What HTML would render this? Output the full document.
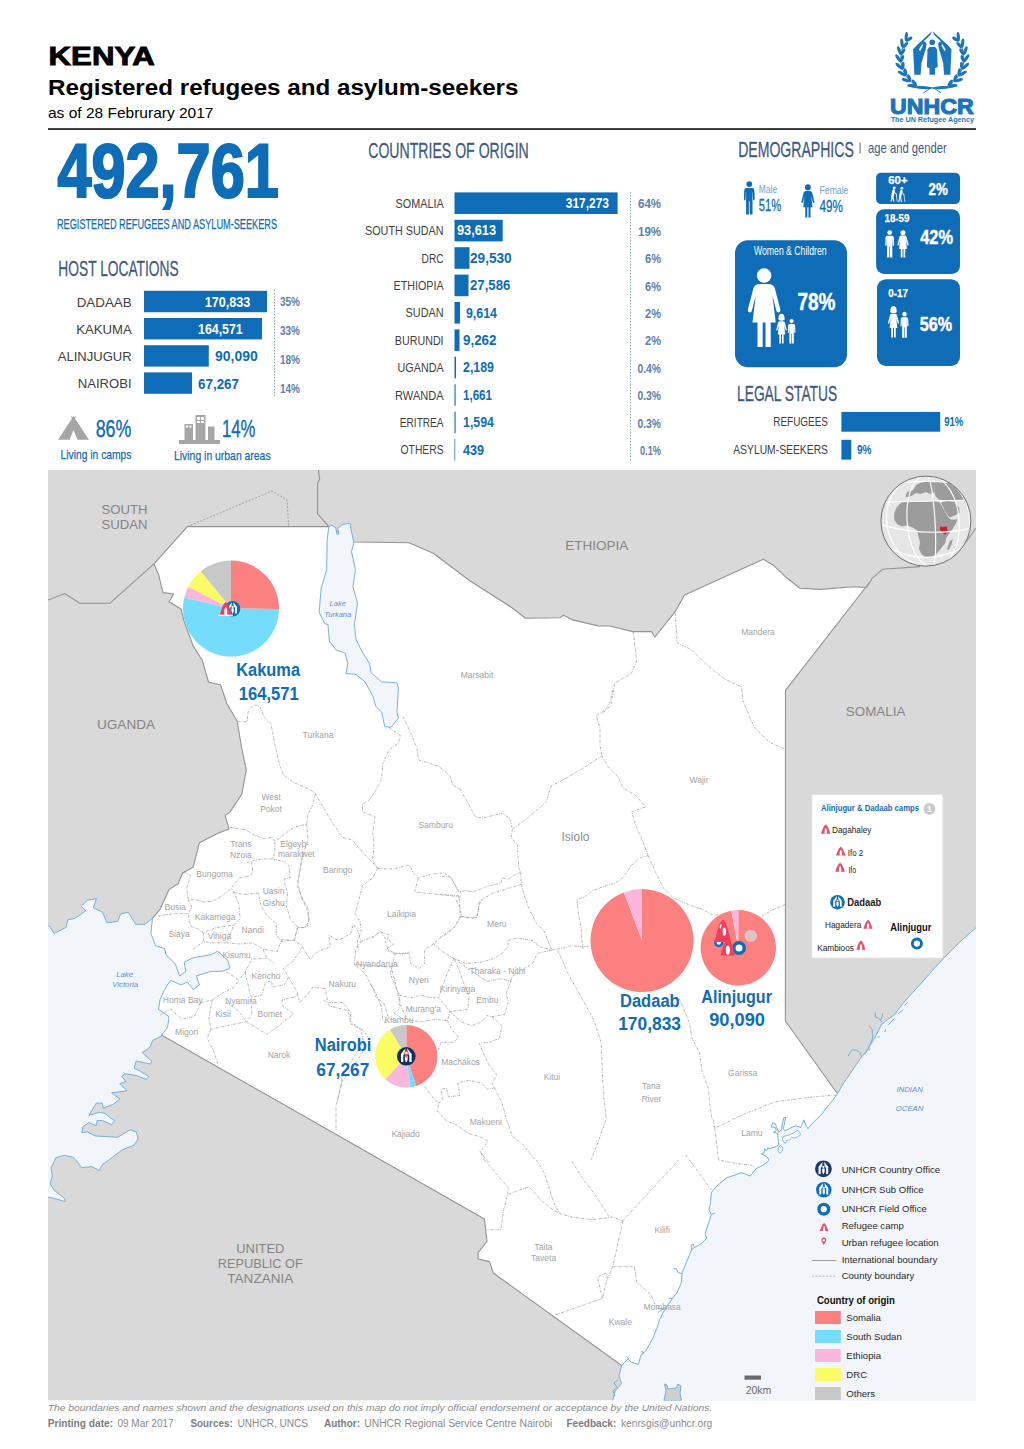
<!DOCTYPE html>
<html lang="en">
<head>
<meta charset="utf-8">
<title>Kenya - Registered refugees and asylum-seekers</title>
<style>
html,body{margin:0;padding:0;background:#fff;}
body{width:1024px;height:1449px;overflow:hidden;}
svg{display:block;font-family:"Liberation Sans",sans-serif;}
text{white-space:pre;}
</style>
</head>
<body>
<svg width="1024" height="1449" viewBox="0 0 1024 1449">
<rect width="1024" height="1449" fill="#fff"/>
<!-- ===== Header ===== -->
<g id="header">
<text x="48.6" y="65.2" font-size="26" textLength="106.3" lengthAdjust="spacingAndGlyphs" font-weight="bold" stroke="#000" stroke-width="0.9">KENYA</text>
<text x="48.0" y="94.5" font-size="21.5" textLength="470.5" lengthAdjust="spacingAndGlyphs" font-weight="bold">Registered refugees and asylum-seekers</text>
<text x="48.0" y="118.0" font-size="14.8" textLength="165.5" lengthAdjust="spacingAndGlyphs">as of 28 Februrary 2017</text>
<rect x="48.0" y="128.2" width="928.0" height="1.7" fill="#1a1a1a"/>
</g>
<!-- ===== Total ===== -->
<g id="total">
<text x="57.4" y="197.3" font-size="75.5" textLength="221.4" lengthAdjust="spacingAndGlyphs" fill="#0f6cb6" font-weight="bold" stroke="#0f6cb6" stroke-width="2.2">492,761</text>
<text x="57.0" y="228.7" font-size="15" textLength="220.0" lengthAdjust="spacingAndGlyphs" fill="#0f6cb6" stroke="#0f6cb6" stroke-width="0.25">REGISTERED REFUGEES AND ASYLUM-SEEKERS</text>
</g>
<!-- ===== Host locations ===== -->
<g id="host">
<text x="58.3" y="275.6" font-size="22.4" textLength="120.4" lengthAdjust="spacingAndGlyphs" fill="#3f5a82" stroke="#3f5a82" stroke-width="0.3">HOST LOCATIONS</text>
<rect x="144.0" y="290.8" width="123.0" height="21.4" fill="#0f6cb6"/>
<text x="131.7" y="306.5" font-size="13.3" textLength="55.0" lengthAdjust="spacingAndGlyphs" text-anchor="end" fill="#404040">DADAAB</text>
<text x="204.7" y="307.0" font-size="14" textLength="45.7" lengthAdjust="spacingAndGlyphs" fill="#fff" font-weight="bold">170,833</text>
<text x="280.0" y="306.0" font-size="12.5" textLength="20.0" lengthAdjust="spacingAndGlyphs" fill="#5d7dab" font-weight="bold">35%</text>
<rect x="144.0" y="318.0" width="118.0" height="21.4" fill="#0f6cb6"/>
<text x="131.7" y="333.7" font-size="13.3" textLength="55.5" lengthAdjust="spacingAndGlyphs" text-anchor="end" fill="#404040">KAKUMA</text>
<text x="198.0" y="334.2" font-size="14" textLength="44.7" lengthAdjust="spacingAndGlyphs" fill="#fff" font-weight="bold">164,571</text>
<text x="280.0" y="335.0" font-size="12.5" textLength="20.0" lengthAdjust="spacingAndGlyphs" fill="#5d7dab" font-weight="bold">33%</text>
<rect x="144.0" y="345.2" width="64.8" height="21.4" fill="#0f6cb6"/>
<text x="131.7" y="360.9" font-size="13.3" textLength="74.0" lengthAdjust="spacingAndGlyphs" text-anchor="end" fill="#404040">ALINJUGUR</text>
<text x="215.0" y="361.4" font-size="14" textLength="42.7" lengthAdjust="spacingAndGlyphs" fill="#0f6cb6" font-weight="bold">90,090</text>
<text x="280.0" y="364.0" font-size="12.5" textLength="20.0" lengthAdjust="spacingAndGlyphs" fill="#5d7dab" font-weight="bold">18%</text>
<rect x="144.0" y="372.4" width="48.0" height="21.4" fill="#0f6cb6"/>
<text x="131.7" y="388.1" font-size="13.3" textLength="54.0" lengthAdjust="spacingAndGlyphs" text-anchor="end" fill="#404040">NAIROBI</text>
<text x="198.0" y="388.6" font-size="14" textLength="41.0" lengthAdjust="spacingAndGlyphs" fill="#0f6cb6" font-weight="bold">67,267</text>
<text x="280.0" y="392.8" font-size="12.5" textLength="20.0" lengthAdjust="spacingAndGlyphs" fill="#5d7dab" font-weight="bold">14%</text>
<line x1="274.5" y1="290" x2="274.5" y2="396" stroke="#8fa3c0" stroke-width="1" stroke-dasharray="1.5,1.5"/>
<path d="M58,439.7 L72,418.5 L70.5,416 L72.8,417.2 L73.5,415.5 L74.2,417.2 L76.5,416 L75,418.5 L89,439.7 L77.5,439.7 L73.5,430 L69.5,439.7 Z" fill="#a6a6a6"/>
<text x="95.7" y="436.8" font-size="23.5" textLength="35.7" lengthAdjust="spacingAndGlyphs" fill="#0f6cb6" stroke="#0f6cb6" stroke-width="0.4">86%</text>
<text x="60.5" y="458.7" font-size="13.5" textLength="71.0" lengthAdjust="spacingAndGlyphs" fill="#0f6cb6" stroke="#0f6cb6" stroke-width="0.25">Living in camps</text>
<g fill="#a6a6a6"><rect x="179" y="440" width="41" height="4"/><rect x="184.5" y="424" width="8.5" height="16"/><rect x="195.5" y="415" width="10" height="25"/><rect x="208" y="426.5" width="6.5" height="13.5"/></g>
<g fill="#fff"><rect x="186" y="425.5" width="2.2" height="2"/><rect x="189.2" y="425.5" width="2.2" height="2"/><rect x="197" y="417" width="3" height="3"/><rect x="201" y="417" width="3" height="3"/><rect x="197" y="421" width="3" height="2"/><rect x="201" y="421" width="3" height="2"/></g>
<text x="222.0" y="436.8" font-size="23.5" textLength="33.4" lengthAdjust="spacingAndGlyphs" fill="#0f6cb6" stroke="#0f6cb6" stroke-width="0.4">14%</text>
<text x="174.0" y="460.0" font-size="13.5" textLength="96.6" lengthAdjust="spacingAndGlyphs" fill="#0f6cb6" stroke="#0f6cb6" stroke-width="0.25">Living in urban areas</text>
</g>
<!-- ===== Countries of origin ===== -->
<g id="origin">
<text x="368.2" y="158.2" font-size="21.8" textLength="160.6" lengthAdjust="spacingAndGlyphs" fill="#3f5a82" stroke="#3f5a82" stroke-width="0.3">COUNTRIES OF ORIGIN</text>
<rect x="454.5" y="192.4" width="163.1" height="21.6" fill="#0f6cb6"/>
<text x="443.6" y="207.8" font-size="13.5" textLength="48.0" lengthAdjust="spacingAndGlyphs" text-anchor="end" fill="#404040">SOMALIA</text>
<text x="565.8" y="208.0" font-size="14" textLength="43.2" lengthAdjust="spacingAndGlyphs" fill="#fff" font-weight="bold">317,273</text>
<text x="661.0" y="208.4" font-size="13" textLength="23.0" lengthAdjust="spacingAndGlyphs" text-anchor="end" fill="#5d7dab" font-weight="bold">64%</text>
<rect x="454.5" y="219.8" width="48.2" height="21.6" fill="#0f6cb6"/>
<text x="443.6" y="235.2" font-size="13.5" textLength="78.6" lengthAdjust="spacingAndGlyphs" text-anchor="end" fill="#404040">SOUTH SUDAN</text>
<text x="457.0" y="235.4" font-size="14" textLength="39.0" lengthAdjust="spacingAndGlyphs" fill="#fff" font-weight="bold">93,613</text>
<text x="661.0" y="235.8" font-size="13" textLength="23.0" lengthAdjust="spacingAndGlyphs" text-anchor="end" fill="#5d7dab" font-weight="bold">19%</text>
<rect x="454.5" y="247.2" width="15.0" height="21.6" fill="#0f6cb6"/>
<text x="443.6" y="262.6" font-size="13.5" textLength="22.0" lengthAdjust="spacingAndGlyphs" text-anchor="end" fill="#404040">DRC</text>
<text x="470.0" y="262.8" font-size="14" textLength="41.7" lengthAdjust="spacingAndGlyphs" fill="#0f6cb6" font-weight="bold">29,530</text>
<text x="661.0" y="263.2" font-size="13" textLength="16.0" lengthAdjust="spacingAndGlyphs" text-anchor="end" fill="#5d7dab" font-weight="bold">6%</text>
<rect x="454.5" y="274.6" width="14.0" height="21.6" fill="#0f6cb6"/>
<text x="443.6" y="290.0" font-size="13.5" textLength="50.0" lengthAdjust="spacingAndGlyphs" text-anchor="end" fill="#404040">ETHIOPIA</text>
<text x="470.0" y="290.2" font-size="14" textLength="40.4" lengthAdjust="spacingAndGlyphs" fill="#0f6cb6" font-weight="bold">27,586</text>
<text x="661.0" y="290.6" font-size="13" textLength="16.0" lengthAdjust="spacingAndGlyphs" text-anchor="end" fill="#5d7dab" font-weight="bold">6%</text>
<rect x="454.5" y="302.0" width="5.5" height="21.6" fill="#0f6cb6"/>
<text x="443.6" y="317.4" font-size="13.5" textLength="38.0" lengthAdjust="spacingAndGlyphs" text-anchor="end" fill="#404040">SUDAN</text>
<text x="465.9" y="317.6" font-size="14" textLength="31.1" lengthAdjust="spacingAndGlyphs" fill="#0f6cb6" font-weight="bold">9,614</text>
<text x="661.0" y="318.0" font-size="13" textLength="16.0" lengthAdjust="spacingAndGlyphs" text-anchor="end" fill="#5d7dab" font-weight="bold">2%</text>
<rect x="454.5" y="329.4" width="5.0" height="21.6" fill="#0f6cb6"/>
<text x="443.6" y="344.8" font-size="13.5" textLength="48.8" lengthAdjust="spacingAndGlyphs" text-anchor="end" fill="#404040">BURUNDI</text>
<text x="463.0" y="345.0" font-size="14" textLength="33.5" lengthAdjust="spacingAndGlyphs" fill="#0f6cb6" font-weight="bold">9,262</text>
<text x="661.0" y="345.4" font-size="13" textLength="16.0" lengthAdjust="spacingAndGlyphs" text-anchor="end" fill="#5d7dab" font-weight="bold">2%</text>
<rect x="454.5" y="356.8" width="1.5" height="21.6" fill="#0f6cb6"/>
<text x="443.6" y="372.2" font-size="13.5" textLength="46.0" lengthAdjust="spacingAndGlyphs" text-anchor="end" fill="#404040">UGANDA</text>
<text x="463.0" y="372.4" font-size="14" textLength="31.0" lengthAdjust="spacingAndGlyphs" fill="#0f6cb6" font-weight="bold">2,189</text>
<text x="661.0" y="372.8" font-size="13" textLength="23.5" lengthAdjust="spacingAndGlyphs" text-anchor="end" fill="#5d7dab" font-weight="bold">0.4%</text>
<rect x="454.5" y="384.2" width="1.1" height="21.6" fill="#0f6cb6"/>
<text x="443.6" y="399.6" font-size="13.5" textLength="48.5" lengthAdjust="spacingAndGlyphs" text-anchor="end" fill="#404040">RWANDA</text>
<text x="463.0" y="399.8" font-size="14" textLength="29.0" lengthAdjust="spacingAndGlyphs" fill="#0f6cb6" font-weight="bold">1,661</text>
<text x="661.0" y="400.2" font-size="13" textLength="23.5" lengthAdjust="spacingAndGlyphs" text-anchor="end" fill="#5d7dab" font-weight="bold">0.3%</text>
<rect x="454.5" y="411.6" width="1.1" height="21.6" fill="#0f6cb6"/>
<text x="443.6" y="427.0" font-size="13.5" textLength="43.8" lengthAdjust="spacingAndGlyphs" text-anchor="end" fill="#404040">ERITREA</text>
<text x="463.0" y="427.2" font-size="14" textLength="31.0" lengthAdjust="spacingAndGlyphs" fill="#0f6cb6" font-weight="bold">1,594</text>
<text x="661.0" y="427.6" font-size="13" textLength="23.5" lengthAdjust="spacingAndGlyphs" text-anchor="end" fill="#5d7dab" font-weight="bold">0.3%</text>
<rect x="454.5" y="439.0" width="0.7" height="21.6" fill="#0f6cb6"/>
<text x="443.6" y="454.4" font-size="13.5" textLength="43.0" lengthAdjust="spacingAndGlyphs" text-anchor="end" fill="#404040">OTHERS</text>
<text x="463.0" y="454.6" font-size="14" textLength="21.0" lengthAdjust="spacingAndGlyphs" fill="#0f6cb6" font-weight="bold">439</text>
<text x="661.0" y="455.0" font-size="13" textLength="21.0" lengthAdjust="spacingAndGlyphs" text-anchor="end" fill="#5d7dab" font-weight="bold">0.1%</text>
<line x1="630.5" y1="192" x2="630.5" y2="461" stroke="#8fa3c0" stroke-width="1" stroke-dasharray="1.5,1.5"/>
</g>
<!-- ===== UNHCR logo ===== -->
<g id="logo" fill="#1b75bc">
<polygon points="931.9,31.3 930.5,34.7 923.5,41.5 925.1,41.8 926.5,43.4 926.0,48.1 921.5,63.0 920.6,74.8 914.4,74.8 913.1,49.2 917.1,44.9"/>
<polygon points="932.7,31.3 934.1,34.7 941.1,41.5 939.5,41.8 938.1,43.4 938.7,48.1 943.2,63.0 944.0,74.8 950.3,74.8 951.5,49.2 947.6,44.9"/>
<polygon points="918.9,49.5 922.4,43.8 923.2,45.4 920.0,51.2" fill="#fff"/>
<polygon points="945.7,49.5 942.2,43.8 941.4,45.4 944.7,51.2" fill="#fff"/>
<circle cx="932.3" cy="42.2" r="2.8"/>
<polygon points="929.4,47.1 935.2,47.1 937.1,49.5 937.7,67.3 935.1,67.9 935.1,74.8 929.5,74.8 929.5,67.9 926.9,67.3 927.5,49.5"/>
<ellipse cx="911.9" cy="85.6" rx="4.7" ry="1.6" transform="rotate(-178.0 911.9 85.6)"/>
<ellipse cx="914.3" cy="82.7" rx="3.8" ry="1.6" transform="rotate(-126.0 914.3 82.7)"/>
<ellipse cx="906.2" cy="80.2" rx="4.7" ry="1.6" transform="rotate(-164.7 906.2 80.2)"/>
<ellipse cx="909.2" cy="77.9" rx="3.8" ry="1.6" transform="rotate(-112.7 909.2 77.9)"/>
<ellipse cx="901.9" cy="73.6" rx="4.7" ry="1.6" transform="rotate(-151.4 901.9 73.6)"/>
<ellipse cx="905.4" cy="72.1" rx="3.8" ry="1.6" transform="rotate(-99.4 905.4 72.1)"/>
<ellipse cx="899.2" cy="66.2" rx="4.7" ry="1.6" transform="rotate(-138.1 899.2 66.2)"/>
<ellipse cx="903.0" cy="65.5" rx="3.8" ry="1.6" transform="rotate(-86.1 903.0 65.5)"/>
<ellipse cx="898.3" cy="58.4" rx="4.7" ry="1.6" transform="rotate(-124.8 898.3 58.4)"/>
<ellipse cx="902.1" cy="58.6" rx="3.8" ry="1.6" transform="rotate(-72.8 902.1 58.6)"/>
<ellipse cx="899.3" cy="50.6" rx="4.7" ry="1.6" transform="rotate(-111.5 899.3 50.6)"/>
<ellipse cx="902.9" cy="51.7" rx="3.8" ry="1.6" transform="rotate(-59.5 902.9 51.7)"/>
<ellipse cx="902.0" cy="43.2" rx="4.7" ry="1.6" transform="rotate(-98.2 902.0 43.2)"/>
<ellipse cx="905.3" cy="45.1" rx="3.8" ry="1.6" transform="rotate(-46.2 905.3 45.1)"/>
<ellipse cx="906.3" cy="36.6" rx="4.7" ry="1.6" transform="rotate(-84.9 906.3 36.6)"/>
<ellipse cx="909.1" cy="39.2" rx="3.8" ry="1.6" transform="rotate(-32.9 909.1 39.2)"/>
<ellipse cx="952.7" cy="85.6" rx="4.7" ry="1.6" transform="rotate(-2.0 952.7 85.6)"/>
<ellipse cx="950.3" cy="82.7" rx="3.8" ry="1.6" transform="rotate(-54.0 950.3 82.7)"/>
<ellipse cx="958.4" cy="80.2" rx="4.7" ry="1.6" transform="rotate(-15.3 958.4 80.2)"/>
<ellipse cx="955.4" cy="77.9" rx="3.8" ry="1.6" transform="rotate(-67.3 955.4 77.9)"/>
<ellipse cx="962.7" cy="73.6" rx="4.7" ry="1.6" transform="rotate(-28.6 962.7 73.6)"/>
<ellipse cx="959.2" cy="72.1" rx="3.8" ry="1.6" transform="rotate(-80.6 959.2 72.1)"/>
<ellipse cx="965.4" cy="66.2" rx="4.7" ry="1.6" transform="rotate(-41.9 965.4 66.2)"/>
<ellipse cx="961.6" cy="65.5" rx="3.8" ry="1.6" transform="rotate(-93.9 961.6 65.5)"/>
<ellipse cx="966.3" cy="58.4" rx="4.7" ry="1.6" transform="rotate(-55.2 966.3 58.4)"/>
<ellipse cx="962.5" cy="58.6" rx="3.8" ry="1.6" transform="rotate(-107.2 962.5 58.6)"/>
<ellipse cx="965.3" cy="50.6" rx="4.7" ry="1.6" transform="rotate(-68.5 965.3 50.6)"/>
<ellipse cx="961.7" cy="51.7" rx="3.8" ry="1.6" transform="rotate(-120.5 961.7 51.7)"/>
<ellipse cx="962.6" cy="43.2" rx="4.7" ry="1.6" transform="rotate(-81.8 962.6 43.2)"/>
<ellipse cx="959.3" cy="45.1" rx="3.8" ry="1.6" transform="rotate(-133.8 959.3 45.1)"/>
<ellipse cx="958.3" cy="36.6" rx="4.7" ry="1.6" transform="rotate(-95.1 958.3 36.6)"/>
<ellipse cx="955.5" cy="39.2" rx="3.8" ry="1.6" transform="rotate(-147.1 955.5 39.2)"/>
<polyline points="922.6,88.5 920.2,87.6 917.9,86.5 915.7,85.3 913.6,83.9 911.6,82.3 909.8,80.5 908.1,78.7 906.6,76.7 905.2,74.5 904.0,72.3 903.0,70.0 902.1,67.6 901.5,65.2 901.1,62.7 900.8,60.1 900.8,57.6 901.0,55.1 901.4,52.6 901.9,50.1 902.7,47.7" fill="none" stroke="#1b75bc" stroke-width="0.9"/>
<polyline points="942.0,88.5 944.4,87.6 946.7,86.5 948.9,85.3 951.0,83.9 953.0,82.3 954.8,80.5 956.5,78.7 958.0,76.7 959.4,74.5 960.6,72.3 961.6,70.0 962.5,67.6 963.1,65.2 963.5,62.7 963.8,60.1 963.8,57.6 963.6,55.1 963.2,52.6 962.7,50.1 961.9,47.7" fill="none" stroke="#1b75bc" stroke-width="0.9"/>
<path d="M911,87.2 Q924,84.5 932.5,87.5 Q941,84.5 954,87.2 Q941,90.5 932.5,88.6 Q924,90.5 911,87.2 Z"/>
<path d="M923.5,92.8 L931.5,87.6 M941,92.8 L933.2,87.6" stroke="#1b75bc" stroke-width="0.9" fill="none"/>
<text x="890.0" y="113.5" font-size="21.7" textLength="83.6" lengthAdjust="spacingAndGlyphs" fill="#1b75bc" font-weight="bold" stroke="#1b75bc" stroke-width="1.1">UNHCR</text>
<text x="890.7" y="121.6" font-size="7.6" textLength="83.3" lengthAdjust="spacingAndGlyphs" fill="#1b75bc" font-weight="bold">The UN Refugee Agency</text>
</g>
<!-- ===== Demographics ===== -->
<g id="demographics">
<text x="738.2" y="156.7" font-size="21.6" textLength="115.6" lengthAdjust="spacingAndGlyphs" fill="#3f5a82" stroke="#3f5a82" stroke-width="0.3">DEMOGRAPHICS</text>
<rect x="859.6" y="142.5" width="0.9" height="11.0" fill="#3f5a82"/>
<text x="868.0" y="152.9" font-size="14.5" textLength="78.8" lengthAdjust="spacingAndGlyphs" fill="#3f5a82">age and gender</text>
<g transform="translate(749.3,181.1) scale(33.40,33.40)" fill="#0f6cb6"><circle cx="0" cy="0.09" r="0.088"/><path d="M-0.09,0.21 Q-0.148,0.21 -0.152,0.28 L-0.162,0.54 Q-0.162,0.572 -0.136,0.572 Q-0.112,0.572 -0.112,0.54 L-0.102,0.33 L-0.096,0.33 L-0.096,1 L-0.012,1 L-0.012,0.6 L0.012,0.6 L0.012,1 L0.096,1 L0.096,0.33 L0.102,0.33 L0.112,0.54 Q0.112,0.572 0.136,0.572 Q0.162,0.572 0.162,0.54 L0.152,0.28 Q0.148,0.21 0.09,0.21 Z"/></g>
<text x="758.8" y="193.2" font-size="11.2" textLength="18.4" lengthAdjust="spacingAndGlyphs" fill="#6aa3d9">Male</text>
<text x="758.8" y="211.4" font-size="16" textLength="22.5" lengthAdjust="spacingAndGlyphs" fill="#0f6cb6" stroke="#0f6cb6" stroke-width="0.3">51%</text>
<g transform="translate(807.9,184.3) scale(31.54,33.20)" fill="#0f6cb6"><circle cx="0" cy="0.093" r="0.092"/><path d="M-0.06,0.2 Q-0.115,0.2 -0.135,0.25 L-0.205,0.52 Q-0.212,0.556 -0.182,0.562 Q-0.16,0.564 -0.153,0.53 L-0.105,0.34 L-0.148,0.688 L-0.084,0.688 L-0.084,1 L-0.018,1 L-0.018,0.688 L0.018,0.688 L0.018,1 L0.084,1 L0.084,0.688 L0.148,0.688 L0.105,0.34 L0.153,0.53 Q0.16,0.564 0.182,0.562 Q0.212,0.556 0.205,0.52 L0.135,0.25 Q0.115,0.2 0.06,0.2 Z"/></g>
<text x="819.6" y="194.4" font-size="11.2" textLength="28.8" lengthAdjust="spacingAndGlyphs" fill="#6aa3d9">Female</text>
<text x="819.4" y="212.4" font-size="16.2" textLength="23.4" lengthAdjust="spacingAndGlyphs" fill="#0f6cb6" stroke="#0f6cb6" stroke-width="0.3">49%</text>
<rect x="876.1" y="172.7" width="83.9" height="31.4" fill="#0f6cb6" rx="5"/>
<text x="888.3" y="183.5" font-size="10.2" textLength="19.2" lengthAdjust="spacingAndGlyphs" fill="#fff" font-weight="bold" stroke="#fff" stroke-width="0.25">60+</text>
<text x="928.6" y="194.7" font-size="17" textLength="19.2" lengthAdjust="spacingAndGlyphs" fill="#fff" font-weight="bold" stroke="#fff" stroke-width="0.45">2%</text>
<g stroke="#fff" fill="none" stroke-linecap="round"><circle cx="894.2" cy="187.9" r="1.45" fill="#fff" stroke="none"/><path d="M893.7,190.5 L892.3,196.5" stroke-width="2.5"/><path d="M892.3,196.5 L891.2,201.2 M892.7,196.5 L893.8,201.2" stroke-width="1.2"/><path d="M894.0,191.5 L896.2,194.5" stroke-width="1"/><path d="M896.2,193.7 L897.2,201.3" stroke-width="0.75"/></g>
<g stroke="#e6eef8" fill="none" stroke-linecap="round"><circle cx="901.9" cy="188.3" r="1.45" fill="#e6eef8" stroke="none"/><path d="M901.4,190.9 L900.0,196.9" stroke-width="2.5"/><path d="M900.0,196.9 L898.9,201.6 M900.4,196.9 L901.5,201.6" stroke-width="1.2"/><path d="M901.7,191.9 L903.9,194.9" stroke-width="1"/><path d="M903.9,194.1 L904.9,201.7" stroke-width="0.75"/></g>
<rect x="876.1" y="209.2" width="83.9" height="64.7" fill="#0f6cb6" rx="8"/>
<text x="884.5" y="222.4" font-size="10.6" textLength="24.9" lengthAdjust="spacingAndGlyphs" fill="#fff" font-weight="bold" stroke="#fff" stroke-width="0.25">18-59</text>
<text x="920.2" y="243.5" font-size="19.7" textLength="32.8" lengthAdjust="spacingAndGlyphs" fill="#fff" font-weight="bold" stroke="#fff" stroke-width="0.45">42%</text>
<g transform="translate(889.7,230.1) scale(27.40,27.40)" fill="#fff"><circle cx="0" cy="0.09" r="0.088"/><path d="M-0.09,0.21 Q-0.148,0.21 -0.152,0.28 L-0.162,0.54 Q-0.162,0.572 -0.136,0.572 Q-0.112,0.572 -0.112,0.54 L-0.102,0.33 L-0.096,0.33 L-0.096,1 L-0.012,1 L-0.012,0.6 L0.012,0.6 L0.012,1 L0.096,1 L0.096,0.33 L0.102,0.33 L0.112,0.54 Q0.112,0.572 0.136,0.572 Q0.162,0.572 0.162,0.54 L0.152,0.28 Q0.148,0.21 0.09,0.21 Z"/></g>
<g transform="translate(903.0,230.1) scale(26.85,27.40)" fill="#fff"><circle cx="0" cy="0.093" r="0.092"/><path d="M-0.06,0.2 Q-0.115,0.2 -0.135,0.25 L-0.205,0.52 Q-0.212,0.556 -0.182,0.562 Q-0.16,0.564 -0.153,0.53 L-0.105,0.34 L-0.148,0.688 L-0.084,0.688 L-0.084,1 L-0.018,1 L-0.018,0.688 L0.018,0.688 L0.018,1 L0.084,1 L0.084,0.688 L0.148,0.688 L0.105,0.34 L0.153,0.53 Q0.16,0.564 0.182,0.562 Q0.212,0.556 0.205,0.52 L0.135,0.25 Q0.115,0.2 0.06,0.2 Z"/></g>
<rect x="877.0" y="279.2" width="83.0" height="86.7" fill="#0f6cb6" rx="9"/>
<text x="888.3" y="296.8" font-size="10.8" textLength="19.7" lengthAdjust="spacingAndGlyphs" fill="#fff" font-weight="bold" stroke="#fff" stroke-width="0.25">0-17</text>
<text x="919.7" y="330.8" font-size="19.6" textLength="32.3" lengthAdjust="spacingAndGlyphs" fill="#fff" font-weight="bold" stroke="#fff" stroke-width="0.45">56%</text>
<g transform="translate(893.5,305.9) scale(27.90,31.70)" fill="#fff"><path d="M-0.115,0.2 Q-0.125,0.0 0,0.0 Q0.125,0.0 0.115,0.2 Q0.06,0.235 0,0.235 Q-0.06,0.235 -0.115,0.2 Z"/><path d="M-0.06,0.25 Q-0.105,0.25 -0.125,0.29 L-0.195,0.53 Q-0.2,0.56 -0.175,0.565 Q-0.155,0.565 -0.148,0.54 L-0.1,0.38 L-0.14,0.7 L-0.08,0.7 L-0.08,1 L-0.018,1 L-0.018,0.7 L0.018,0.7 L0.018,1 L0.08,1 L0.08,0.7 L0.14,0.7 L0.1,0.38 L0.148,0.54 Q0.155,0.565 0.175,0.565 Q0.2,0.56 0.195,0.53 L0.125,0.29 Q0.105,0.25 0.06,0.25 Z"/></g>
<g transform="translate(904.5,311.8) scale(24.60,25.90)" fill="#fff"><circle cx="0" cy="0.09" r="0.088"/><path d="M-0.09,0.21 Q-0.148,0.21 -0.152,0.28 L-0.162,0.54 Q-0.162,0.572 -0.136,0.572 Q-0.112,0.572 -0.112,0.54 L-0.102,0.33 L-0.096,0.33 L-0.096,1 L-0.012,1 L-0.012,0.6 L0.012,0.6 L0.012,1 L0.096,1 L0.096,0.33 L0.102,0.33 L0.112,0.54 Q0.112,0.572 0.136,0.572 Q0.162,0.572 0.162,0.54 L0.152,0.28 Q0.148,0.21 0.09,0.21 Z"/></g>
<rect x="735.0" y="240.2" width="112.0" height="127.0" fill="#0f6cb6" rx="13"/>
<text x="754.0" y="255.0" font-size="12.5" textLength="72.6" lengthAdjust="spacingAndGlyphs" fill="#fff">Women &amp; Children</text>
<g transform="translate(764.1,268.2) scale(78.80,78.80)" fill="#fff"><circle cx="0" cy="0.093" r="0.092"/><path d="M-0.06,0.2 Q-0.115,0.2 -0.135,0.25 L-0.205,0.52 Q-0.212,0.556 -0.182,0.562 Q-0.16,0.564 -0.153,0.53 L-0.105,0.34 L-0.148,0.688 L-0.084,0.688 L-0.084,1 L-0.018,1 L-0.018,0.688 L0.018,0.688 L0.018,1 L0.084,1 L0.084,0.688 L0.148,0.688 L0.105,0.34 L0.153,0.53 Q0.16,0.564 0.182,0.562 Q0.212,0.556 0.205,0.52 L0.135,0.25 Q0.115,0.2 0.06,0.2 Z"/></g>
<g transform="translate(781.5,313.8) scale(26.73,29.70)" fill="#fff"><path d="M-0.115,0.2 Q-0.125,0.0 0,0.0 Q0.125,0.0 0.115,0.2 Q0.06,0.235 0,0.235 Q-0.06,0.235 -0.115,0.2 Z"/><path d="M-0.06,0.25 Q-0.105,0.25 -0.125,0.29 L-0.195,0.53 Q-0.2,0.56 -0.175,0.565 Q-0.155,0.565 -0.148,0.54 L-0.1,0.38 L-0.14,0.7 L-0.08,0.7 L-0.08,1 L-0.018,1 L-0.018,0.7 L0.018,0.7 L0.018,1 L0.08,1 L0.08,0.7 L0.14,0.7 L0.1,0.38 L0.148,0.54 Q0.155,0.565 0.175,0.565 Q0.2,0.56 0.195,0.53 L0.125,0.29 Q0.105,0.25 0.06,0.25 Z"/></g>
<g transform="translate(791.6,318.9) scale(23.37,24.60)" fill="#fff"><circle cx="0" cy="0.09" r="0.088"/><path d="M-0.09,0.21 Q-0.148,0.21 -0.152,0.28 L-0.162,0.54 Q-0.162,0.572 -0.136,0.572 Q-0.112,0.572 -0.112,0.54 L-0.102,0.33 L-0.096,0.33 L-0.096,1 L-0.012,1 L-0.012,0.6 L0.012,0.6 L0.012,1 L0.096,1 L0.096,0.33 L0.102,0.33 L0.112,0.54 Q0.112,0.572 0.136,0.572 Q0.162,0.572 0.162,0.54 L0.152,0.28 Q0.148,0.21 0.09,0.21 Z"/></g>
<text x="797.5" y="309.5" font-size="23.5" textLength="38.0" lengthAdjust="spacingAndGlyphs" fill="#fff" font-weight="bold" stroke="#fff" stroke-width="0.45">78%</text>
</g>
<!-- ===== Legal status ===== -->
<g id="legal">
<text x="737.0" y="401.2" font-size="22" textLength="100.2" lengthAdjust="spacingAndGlyphs" fill="#3f5a82" stroke="#3f5a82" stroke-width="0.3">LEGAL STATUS</text>
<rect x="841.4" y="411.9" width="98.8" height="19.8" fill="#0f6cb6"/>
<rect x="841.4" y="439.8" width="9.9" height="19.8" fill="#0f6cb6"/>
<text x="828.0" y="425.9" font-size="13" textLength="54.7" lengthAdjust="spacingAndGlyphs" text-anchor="end" fill="#404040">REFUGEES</text>
<text x="828.0" y="453.8" font-size="13" textLength="94.8" lengthAdjust="spacingAndGlyphs" text-anchor="end" fill="#404040">ASYLUM-SEEKERS</text>
<text x="944.2" y="425.9" font-size="12" textLength="19.1" lengthAdjust="spacingAndGlyphs" fill="#0f6cb6" font-weight="bold">91%</text>
<text x="857.0" y="453.8" font-size="12" textLength="14.6" lengthAdjust="spacingAndGlyphs" fill="#0f6cb6" font-weight="bold">9%</text>
</g>
<!-- ===== Map ===== -->
<g id="map">
<clipPath id="mapclip"><rect x="48" y="470" width="928" height="930.5"/></clipPath>
<g clip-path="url(#mapclip)">
<rect x="48.0" y="470.0" width="928.0" height="930.5" fill="#d9d9d9"/>
<polygon points="48.0,926.0 48.0,926.0 49.5,925.9 54.0,933.5 66.2,927.4 67.7,919.9 75.2,918.3 85.8,910.8 81.3,906.2 87.4,900.2 96.4,898.7 93.4,907.8 102.5,912.3 107.0,922.9 117.6,921.4 120.7,913.8 128.2,912.3 135.8,924.4 144.9,924.4 152.5,918.3 152.5,918.3 150.9,933.5 155.5,945.6 164.6,948.6 166.0,954.7 175.2,963.8 179.7,975.9 185.8,971.3 184.2,962.2 193.3,957.7 211.5,954.7 217.5,951.0 228.1,960.7 229.7,968.3 222.1,971.3 211.5,971.3 196.3,975.9 199.4,985.0 193.3,989.5 187.3,981.9 181.2,985.0 170.6,980.4 164.6,989.5 160.0,1000.0 158.5,1009.2 169.1,1016.7 167.6,1027.3 161.5,1035.0 162.8,1035.4 152.6,1040.5 150.5,1046.7 142.3,1052.8 151.6,1061.0 150.5,1064.1 136.2,1061.0 134.1,1068.2 140.3,1071.3 148.5,1076.4 146.4,1079.5 136.2,1075.4 124.9,1073.7 121.8,1076.4 125.9,1081.5 119.8,1083.6 127.0,1090.8 111.6,1092.8 119.8,1099.0 113.6,1104.1 103.4,1108.2 102.3,1103.1 96.2,1103.1 89.0,1115.4 99.3,1112.3 105.4,1113.3 109.5,1117.4 114.7,1120.5 111.6,1124.6 102.3,1120.5 97.2,1120.5 96.2,1125.6 89.0,1122.5 82.9,1126.6 81.8,1132.8 87.0,1131.8 95.2,1135.9 117.7,1137.3 130.0,1129.7 136.2,1131.8 138.2,1138.9 134.1,1145.1 121.8,1150.2 109.5,1159.5 102.3,1164.6 99.3,1170.7 92.1,1166.6 81.8,1167.7 73.6,1157.4 64.4,1155.4 56.2,1157.4 51.1,1167.7 52.1,1175.9 50.1,1184.1 54.2,1190.2 64.4,1198.4 65.4,1201.5 50.1,1197.4 48.0,1197.4" fill="#f2f5fa"/>
<polygon points="976.0,927.6 959.6,942.2 944.0,957.9 932.3,970.5 920.5,984.2 914.1,991.0 904.4,1001.7 894.6,1014.4 886.8,1020.3 881.9,1024.2 873.1,1040.8 865.3,1052.5 860.4,1058.4 850.6,1073.0 843.8,1082.8 837.5,1093.6 834.6,1097.5 832.6,1100.5 826.7,1107.6 820.9,1115.2 812.7,1122.8 808.0,1128.7 805.6,1125.2 803.9,1119.9 801.5,1125.2 800.9,1127.5 795.1,1125.7 789.2,1128.7 785.1,1131.0 783.4,1128.7 784.5,1122.8 785.7,1117.5 783.9,1117.5 782.2,1124.0 781.6,1129.8 778.7,1132.2 776.3,1126.3 775.2,1123.4 772.8,1122.8 771.1,1126.9 775.2,1127.5 776.3,1130.4 773.4,1132.2 777.5,1133.4 778.1,1139.2 778.7,1145.1 774.0,1147.4 768.7,1148.6 768.1,1147.4 766.4,1150.9 764.6,1148.6 764.0,1152.7 761.1,1153.9 765.2,1155.6 768.1,1158.0 768.7,1160.9 764.0,1164.4 761.1,1166.2 756.4,1168.5 750.0,1176.1 744.7,1173.8 740.0,1172.6 740.0,1173.2 726.5,1177.9 717.0,1185.9 711.4,1192.2 710.6,1201.7 709.0,1209.7 711.4,1214.4 708.3,1224.0 705.1,1233.5 706.7,1238.3 701.1,1243.8 694.0,1247.8 691.6,1249.4 689.2,1255.7 685.2,1265.2 682.1,1273.2 681.3,1282.7 677.3,1292.2 672.5,1298.6 667.8,1304.9 663.8,1311.3 659.8,1319.2 656.7,1328.7 652.7,1338.3 650.3,1343.0 645.6,1351.0 640.8,1355.7 638.4,1364.4 631.3,1362.1 628.1,1358.9 624.1,1362.9 621.6,1365.5 621.6,1365.5 619.0,1375.8 621.6,1383.5 615.2,1391.0 612.7,1400.5 976.0,1400.5" fill="#f2f5fa"/>
<polygon points="187.3,526.6 328.8,526.6 353.9,542.0 409.0,542.7 433.2,553.3 469.5,580.5 512.0,607.8 525.5,618.3 560.4,617.7 563.4,615.3 572.5,619.9 598.2,625.9 610.0,626.0 633.0,631.6 651.4,631.6 655.0,637.0 675.3,611.4 684.5,594.9 763.4,559.2 772.6,564.7 787.3,578.3 800.0,588.3 820.3,589.4 853.4,586.8 866.3,587.5 871.0,580.5 785.5,690.3 785.4,1021.0 837.3,1093.5 834.6,1097.5 832.6,1100.5 826.7,1107.6 820.9,1115.2 812.7,1122.8 808.0,1128.7 805.6,1125.2 803.9,1119.9 801.5,1125.2 800.9,1127.5 795.1,1125.7 789.2,1128.7 785.1,1131.0 783.4,1128.7 784.5,1122.8 785.7,1117.5 783.9,1117.5 782.2,1124.0 781.6,1129.8 778.7,1132.2 776.3,1126.3 775.2,1123.4 772.8,1122.8 771.1,1126.9 775.2,1127.5 776.3,1130.4 773.4,1132.2 777.5,1133.4 778.1,1139.2 778.7,1145.1 774.0,1147.4 768.7,1148.6 768.1,1147.4 766.4,1150.9 764.6,1148.6 764.0,1152.7 761.1,1153.9 765.2,1155.6 768.1,1158.0 768.7,1160.9 764.0,1164.4 761.1,1166.2 756.4,1168.5 750.0,1176.1 744.7,1173.8 740.0,1172.6 740.0,1173.2 726.5,1177.9 717.0,1185.9 711.4,1192.2 710.6,1201.7 709.0,1209.7 711.4,1214.4 708.3,1224.0 705.1,1233.5 706.7,1238.3 701.1,1243.8 694.0,1247.8 691.6,1249.4 689.2,1255.7 685.2,1265.2 682.1,1273.2 681.3,1282.7 677.3,1292.2 672.5,1298.6 667.8,1304.9 663.8,1311.3 659.8,1319.2 656.7,1328.7 652.7,1338.3 650.3,1343.0 645.6,1351.0 640.8,1355.7 638.4,1364.4 631.3,1362.1 628.1,1358.9 624.1,1362.9 621.6,1365.5 493.3,1273.0 489.5,1261.6 478.1,1259.0 478.1,1252.7 487.0,1241.3 484.4,1218.9 161.5,1035.0 167.6,1027.3 169.1,1016.7 158.5,1009.2 160.0,1000.0 164.6,989.5 170.6,980.4 181.2,985.0 187.3,981.9 193.3,989.5 199.4,985.0 196.3,975.9 211.5,971.3 222.1,971.3 229.7,968.3 228.1,960.7 217.5,951.0 211.5,954.7 193.3,957.7 184.2,962.2 185.8,971.3 179.7,975.9 175.2,963.8 166.0,954.7 164.6,948.6 155.5,945.6 150.9,933.5 152.5,918.3 160.0,909.3 169.1,889.6 178.2,883.5 182.7,872.9 193.3,866.9 199.4,842.7 217.5,833.6 229.0,829.0 225.1,815.4 229.7,812.4 241.8,794.2 246.3,770.0 241.8,748.5 237.2,721.3 226.6,703.0 220.6,685.0 208.5,682.0 202.4,660.7 193.0,645.6 184.0,621.0 181.0,609.0 169.0,601.7 173.6,594.0 163.0,592.6 158.5,574.4 154.0,563.9" fill="#fff"/>
<g fill="none" stroke="#9c9c9c" stroke-width="0.75" stroke-dasharray="2.6,1.2,0.8,1.2" stroke-linejoin="round">
<polyline points="238.1,721.7 247.0,721.7 248.2,711.6 253.3,704.7 259.7,706.5 264.8,717.9 271.1,724.3 274.9,744.6 280.0,766.2 283.8,775.1 294.0,782.7 309.2,789.0 315.5,793.6 321.9,805.5 332.0,822.0 342.2,837.3 352.4,839.8 362.5,852.5 372.7,862.7 377.8,868.5"/>
<polyline points="315.5,793.6 313.0,804.3 307.9,814.4 306.7,824.1 294.0,827.1 283.8,834.7 274.9,841.6 272.4,837.3 263.5,838.6 253.3,834.7 245.7,829.7 235.6,828.4 229.2,827.1"/>
<polyline points="306.7,824.1 307.9,839.8 302.8,855.1 300.3,867.8 297.8,883.0 301.6,898.2 306.7,908.4 309.2,919.8 306.7,927.4 297.8,927.4"/>
<polyline points="389.2,727.6 400.6,735.7 398.1,743.3 389.2,749.7 382.8,763.6 381.6,778.9 375.2,791.6 368.9,800.5 362.5,804.3 362.5,811.9 368.9,814.4 375.2,817.0 372.7,832.2 373.9,847.4 372.7,860.1 377.8,868.5"/>
<polyline points="403.1,716.7 410.8,733.2 417.1,748.4 418.4,759.8 438.7,766.2 450.1,776.3 452.7,785.2 460.0,789.0"/>
<polyline points="377.8,868.5 372.7,877.9 362.5,885.5 358.7,900.8 354.9,913.5 360.0,921.1 361.2,931.2 357.4,941.4 358.7,951.6"/>
<polyline points="377.8,868.5 393.0,869.0 403.1,866.5 409.5,865.2 413.3,872.8 418.4,877.9 431.1,874.1 443.8,872.8 451.4,877.9 456.5,888.1 461.6,893.1"/>
<polyline points="418.4,877.9 414.6,891.9 461.6,897.0"/>
<polyline points="247.0,862.7 254.6,860.1 263.5,858.9 272.4,858.9 274.9,852.5 274.9,841.6"/>
<polyline points="272.4,858.9 283.8,861.4 288.9,865.2 290.1,877.9 283.8,879.2 287.6,893.1 286.3,905.8 290.1,918.5 297.8,927.4"/>
<polyline points="233.0,892.6 244.4,894.4 258.4,893.1 260.9,905.8 267.3,916.0 276.2,923.6 276.2,933.8 281.3,941.4 294.0,940.1 297.8,927.4"/>
<polyline points="612.7,690.0 610.1,701.4 605.1,710.3 596.2,715.4 600.0,728.1 600.0,745.9 602.0,756.0"/>
<polyline points="602.0,756.0 582.2,768.7 567.0,777.6 550.5,786.5 546.7,801.7 528.9,817.0 512.4,829.2"/>
<polyline points="460.1,789.0 467.9,803.0 475.6,817.0 481.9,818.2 502.2,813.2 509.8,818.2 512.4,829.2"/>
<polyline points="512.4,829.2 511.1,837.3 517.5,844.9 518.7,867.8 520.8,872.8"/>
<polyline points="520.8,872.8 517.5,873.3 508.6,879.2 502.2,877.9 500.9,883.0 490.8,885.5 485.7,886.8 473.0,891.9 465.4,890.6 459.0,891.9 450.2,876.6 440.0,876.6"/>
<polyline points="520.8,872.8 521.3,884.3 508.6,888.1 493.3,893.1 479.4,900.8 478.1,913.5 473.0,918.5 465.4,917.3 460.3,916.0 459.0,895.7 440.0,894.4"/>
<polyline points="521.3,884.3 525.1,898.2 528.9,908.4 534.0,918.5 536.5,923.6 544.1,931.2 549.2,943.9 551.7,950.0"/>
<polyline points="460.3,916.0 455.2,926.2 447.6,933.8 440.0,937.6"/>
<polyline points="602.0,756.0 607.6,766.2 617.8,776.3 622.8,787.8 635.5,795.4 645.7,806.8 631.7,811.9 635.5,824.6 643.1,842.4 648.2,855.6"/>
<polyline points="648.2,855.6 655.8,872.8 663.5,888.1 673.6,898.2 691.4,905.8 700.0,908.4"/>
<polyline points="648.2,855.6 640.6,857.6 631.7,865.2 622.8,877.9 615.2,883.0 602.5,886.8 592.4,890.6 584.7,897.0 577.1,899.5 578.4,913.5 580.9,926.2 582.2,943.9 583.5,950.0"/>
<polyline points="675.3,613.2 677.1,642.6 691.8,649.9 706.5,664.6 724.9,679.3 741.4,686.7 743.2,701.4 754.2,727.1 768.9,741.8 784.7,749.1"/>
<polyline points="633.1,631.6 636.7,661.0 631.2,673.8 614.7,683.0 611.0,705.0 601.8,714.2"/>
<polyline points="700.0,908.2 712.2,914.6 760.5,917.1 773.1,909.5 785.3,904.4"/>
<polyline points="679.2,998.4 689.3,1022.5 691.9,1037.8 699.5,1053.0 702.0,1070.8 708.4,1088.5 709.7,1103.8 712.2,1120.0"/>
<polyline points="713.2,1119.5 714.9,1128.3 739.5,1116.0 774.7,1102.0 806.4,1097.7 836.2,1094.9"/>
<polyline points="714.9,1128.3 718.5,1160.0 736.0,1163.5 751.9,1165.3 755.4,1168.1"/>
<polyline points="711.4,1189.9 685.0,1154.0"/>
<polyline points="484.4,1160.0 508.6,1187.9 507.3,1195.6 503.5,1210.8 500.9,1229.8 487.0,1229.8"/>
<polyline points="508.6,1194.3 528.9,1186.7 541.6,1200.6 554.3,1210.8 559.3,1213.3"/>
<polyline points="536.5,1160.0 544.1,1172.7 549.2,1187.9 553.0,1200.6 559.3,1213.3 572.0,1217.1 592.4,1219.7 612.7,1217.1 622.8,1220.9"/>
<polyline points="572.0,1161.3 582.2,1177.8 597.4,1198.1 608.9,1216.4"/>
<polyline points="622.8,1220.9 678.7,1160.0"/>
<polyline points="622.8,1220.9 617.8,1243.8 612.7,1266.7 606.3,1281.9 602.5,1298.4 555.5,1314.9"/>
<polyline points="612.7,1266.7 634.3,1266.7 636.8,1281.9 650.8,1294.6 655.8,1306.0"/>
<polyline points="602.5,1298.4 597.4,1276.8 606.3,1273.0 607.6,1279.3"/>
<polyline points="363.2,1051.5 351.1,1069.6 342.0,1081.7 336.0,1106.0 336.0,1130.2"/>
<polyline points="323.9,1000.0 329.9,1006.1 348.1,1010.6 351.1,1024.2 363.2,1030.3 369.3,1039.4"/>
<polyline points="184.3,871.7 190.6,875.6 186.8,888.2 188.1,899.7 195.7,899.7 204.6,902.2 213.5,900.9 223.6,894.6 231.3,888.2 238.9,878.1 250.3,875.6 252.8,871.7 251.6,861.6"/>
<polyline points="188.1,899.7 191.9,907.3 188.1,913.6 190.6,926.3 198.2,928.9 203.3,932.7 216.0,927.6 233.8,925.1 240.1,918.7 238.9,904.8 235.1,894.6 231.3,888.2"/>
<polyline points="157.6,916.2 165.2,914.9 175.4,913.6 188.1,913.6"/>
<polyline points="203.3,932.7 203.3,941.6 213.5,942.8 226.2,942.8 228.7,937.8 233.8,925.1"/>
<polyline points="193.2,949.2 203.3,941.6"/>
<polyline points="226.2,942.8 241.4,944.1 252.8,942.8 263.0,949.2 277.0,951.7 282.0,939.5"/>
<polyline points="263.0,949.2 266.8,958.1 274.4,963.2"/>
<polyline points="226.2,972.0 238.9,979.7 245.2,972.0 251.6,959.3 266.8,958.1"/>
<polyline points="245.2,972.0 249.0,989.8 251.6,997.4 261.7,994.9 265.5,982.2 271.9,980.9 271.9,987.3 284.6,984.7 288.4,977.1 283.3,968.2 292.2,961.9 299.8,951.7 302.4,946.7 294.7,940.3 282.0,939.5"/>
<polyline points="294.7,940.3 297.3,927.6 304.9,927.6 308.7,921.3 308.7,909.8 302.4,898.4 297.3,885.7 299.8,870.5 302.4,855.2 302.4,840.0"/>
<polyline points="288.4,977.1 297.3,992.4 299.8,1002.5 307.4,994.9 312.5,987.3 325.2,988.6 327.8,1002.5 343.0,1002.5 350.6,1012.7 350.6,1021.6 360.8,1029.2 363.3,1040.6 353.1,1058.4 343.0,1073.6 337.9,1100.0"/>
<polyline points="200.8,1002.5 212.2,1000.0 223.6,992.4 233.8,987.3 238.9,979.7"/>
<polyline points="212.2,1000.0 208.9,1017.8 210.9,1029.2 246.5,1021.6 251.6,1015.2 251.6,997.4"/>
<polyline points="226.2,1002.5 237.6,1010.1 246.5,1021.6"/>
<polyline points="160.2,1015.2 170.3,1008.9 181.7,1019.0 194.4,1016.5 200.8,1002.5"/>
<polyline points="210.9,1029.2 207.1,1038.1 213.5,1050.8 218.6,1066.0"/>
<polyline points="246.5,1021.6 266.8,1034.3 279.5,1025.4 293.5,1013.9 282.0,1005.1 282.0,1000.0 297.3,996.2 297.3,992.4"/>
<polyline points="302.4,946.7 310.0,959.3 317.6,951.7 330.3,946.7 329.0,935.2 337.9,940.3 350.6,934.0 353.1,923.8 358.2,931.4 360.8,941.6 355.7,949.2 354.4,964.4 365.8,974.6 373.5,989.8 376.0,997.4 383.6,1002.5 388.7,1017.8 393.8,1020.3"/>
<polyline points="360.8,941.6 373.5,936.5 381.1,931.4 383.6,936.5 393.8,944.1 386.2,949.2 391.2,953.0 403.9,954.3 410.0,951.7"/>
<polyline points="354.4,964.4 373.5,965.7 391.2,967.0 397.6,992.4 401.4,1007.6 406.5,1017.8"/>
<polyline points="456.3,900.0 460.1,907.6 461.4,916.5 476.7,917.8 479.2,905.1 481.7,900.0"/>
<polyline points="461.4,916.5 453.8,927.9 441.1,936.8 433.5,943.7"/>
<polyline points="433.5,943.7 424.6,949.5 424.6,963.5 419.5,968.6 410.6,963.5 409.4,953.3 395.4,953.3 387.8,949.5 385.2,940.6 390.3,935.6 380.2,931.7 372.5,938.1 370.0,940.6"/>
<polyline points="395.4,953.3 390.3,973.6 395.4,986.3 399.2,995.2 399.2,1009.2 394.1,1013.0"/>
<polyline points="370.0,983.8 375.1,991.4 381.4,1006.7 382.7,1019.3 385.2,1023.2"/>
<polyline points="433.5,943.7 441.1,950.8 453.8,958.4 466.5,963.5 481.7,962.2 494.4,958.4 502.0,953.3 508.4,945.7 507.1,940.6 517.3,938.1 532.5,940.6 540.1,947.0 545.2,948.2 551.6,950.0"/>
<polyline points="551.6,950.0 563.0,948.2 570.6,945.7 583.3,947.0 590.9,945.7"/>
<polyline points="551.6,950.0 537.6,953.3 532.5,963.5 524.9,968.6 512.2,976.2 510.9,981.3"/>
<polyline points="557.9,950.8 568.1,973.6 580.8,996.5 593.5,1019.3 601.1,1042.2 602.4,1072.7 603.6,1095.5 606.2,1118.4 598.5,1141.2 590.9,1160.0"/>
<polyline points="453.8,958.4 446.2,976.2 438.6,997.8 446.2,1006.7 450.0,1011.7 467.8,1009.2 469.0,996.5 464.0,983.8 457.6,966.0 453.8,958.4"/>
<polyline points="453.8,958.4 471.6,971.1 486.8,981.3 502.0,978.7 510.9,981.3 505.9,994.0 508.4,1001.6 504.6,1014.3 491.9,1016.8 486.8,1015.5 481.7,1021.9 471.6,1025.7 461.4,1021.9 450.0,1011.7"/>
<polyline points="399.2,995.2 410.6,997.8 420.8,995.2 430.9,997.8 438.6,997.8"/>
<polyline points="394.1,1013.0 403.0,1019.3 420.8,1021.9 436.0,1019.3 447.5,1020.6 450.0,1011.7"/>
<polyline points="447.5,1020.6 451.3,1029.5 458.9,1037.1 453.8,1042.2 441.1,1042.2 438.6,1049.8"/>
<polyline points="491.9,1016.8 502.0,1025.7 499.5,1038.4 489.3,1042.2 479.2,1043.5 484.3,1054.9 489.3,1065.1 497.0,1075.2 491.9,1082.8 494.4,1087.9"/>
<polyline points="494.4,1087.9 486.8,1089.2 481.7,1082.8 469.0,1080.3 457.6,1082.8 460.1,1095.5 448.7,1096.8 446.2,1087.9 441.1,1089.2 442.4,1100.6 438.6,1103.1"/>
<polyline points="424.6,1086.6 433.5,1098.1 438.6,1103.1 437.3,1110.8 446.2,1120.9 456.3,1124.7 469.0,1133.6 481.7,1137.4 488.1,1141.2 480.5,1151.4 484.3,1160.0"/>
<polyline points="494.4,1087.9 502.0,1103.1 507.1,1120.9 512.2,1136.2 522.4,1143.8 532.5,1156.5 535.1,1160.0"/>
<polyline points="479.8,1151.4 489.5,1163.5"/>
</g>
<g fill="none" stroke="#939393" stroke-width="1.1" stroke-linejoin="round">
<polyline points="154.0,563.9 187.3,526.6 328.8,526.6 353.9,542.0 409.0,542.7 433.2,553.3 469.5,580.5 512.0,607.8 525.5,618.3 560.4,617.7 563.4,615.3 572.5,619.9 598.2,625.9 610.0,626.0 633.0,631.6 651.4,631.6 655.0,637.0 675.3,611.4 684.5,594.9 763.4,559.2 772.6,564.7 787.3,578.3 800.0,588.3 820.3,589.4 853.4,586.8 866.3,587.5 871.0,580.5 785.5,690.3 785.4,1021.0 837.3,1093.5"/>
<polyline points="621.6,1365.5 493.3,1273.0 489.5,1261.6 478.1,1259.0 478.1,1252.7 487.0,1241.3 484.4,1218.9 161.5,1035.0"/>
<polyline points="152.5,918.3 160.0,909.3 169.1,889.6 178.2,883.5 182.7,872.9 193.3,866.9 199.4,842.7 217.5,833.6 229.0,829.0 225.1,815.4 229.7,812.4 241.8,794.2 246.3,770.0 241.8,748.5 237.2,721.3 226.6,703.0 220.6,685.0 208.5,682.0 202.4,660.7 193.0,645.6 184.0,621.0 181.0,609.0 169.0,601.7 173.6,594.0 163.0,592.6 158.5,574.4 154.0,563.9"/>
<polyline points="318.4,470.0 319.7,479.0 317.6,483.6 317.6,513.9 328.8,526.6"/>
<polyline points="48.0,600.0 64.7,593.5 79.8,603.2 110.0,603.2 154.0,563.9"/>
<polyline points="871.0,580.5 872.0,578.3 882.8,569.2 920.0,566.6"/>
<polyline points="966.0,542.0 976.0,528.0"/>
<polyline points="187.3,526.6 272.0,491.0 287.0,500.0 288.7,526.6" stroke-dasharray="2,1.5" stroke-width="0.8"/>
</g>
<polygon points="328.8,526.6 331.8,525.4 335.7,527.5 336.9,534.2 338.8,534.2 337.8,528.1 342.4,524.5 350.0,523.3 351.5,532.1 353.9,542.1 351.5,551.7 355.4,569.9 353.0,586.6 357.5,603.2 354.5,624.4 356.0,639.5 362.1,651.7 369.6,663.8 371.1,672.8 381.7,681.9 396.9,682.8 398.4,688.0 396.9,712.2 398.4,718.3 390.8,727.3 384.8,726.7 381.7,712.2 375.7,706.1 372.7,695.6 365.1,681.9 356.0,674.4 346.0,673.5 347.8,663.8 345.4,653.2 336.3,650.1 329.4,641.1 327.9,624.4 324.8,623.8 319.1,612.3 321.2,588.1 326.6,569.9 327.2,539.6" fill="#f2f5fa" stroke="#66a9df" stroke-width="0.9" stroke-linejoin="round"/>
<g fill="none" stroke="#66a9df" stroke-width="0.9" stroke-linejoin="round">
<polyline points="48.0,926.0 49.5,925.9 54.0,933.5 66.2,927.4 67.7,919.9 75.2,918.3 85.8,910.8 81.3,906.2 87.4,900.2 96.4,898.7 93.4,907.8 102.5,912.3 107.0,922.9 117.6,921.4 120.7,913.8 128.2,912.3 135.8,924.4 144.9,924.4 152.5,918.3 152.5,918.3 150.9,933.5 155.5,945.6 164.6,948.6 166.0,954.7 175.2,963.8 179.7,975.9 185.8,971.3 184.2,962.2 193.3,957.7 211.5,954.7 217.5,951.0 228.1,960.7 229.7,968.3 222.1,971.3 211.5,971.3 196.3,975.9 199.4,985.0 193.3,989.5 187.3,981.9 181.2,985.0 170.6,980.4 164.6,989.5 160.0,1000.0 158.5,1009.2 169.1,1016.7 167.6,1027.3 161.5,1035.0 162.8,1035.4 152.6,1040.5 150.5,1046.7 142.3,1052.8 151.6,1061.0 150.5,1064.1 136.2,1061.0 134.1,1068.2 140.3,1071.3 148.5,1076.4 146.4,1079.5 136.2,1075.4 124.9,1073.7 121.8,1076.4 125.9,1081.5 119.8,1083.6 127.0,1090.8 111.6,1092.8 119.8,1099.0 113.6,1104.1 103.4,1108.2 102.3,1103.1 96.2,1103.1 89.0,1115.4 99.3,1112.3 105.4,1113.3 109.5,1117.4 114.7,1120.5 111.6,1124.6 102.3,1120.5 97.2,1120.5 96.2,1125.6 89.0,1122.5 82.9,1126.6 81.8,1132.8 87.0,1131.8 95.2,1135.9 117.7,1137.3 130.0,1129.7 136.2,1131.8 138.2,1138.9 134.1,1145.1 121.8,1150.2 109.5,1159.5 102.3,1164.6 99.3,1170.7 92.1,1166.6 81.8,1167.7 73.6,1157.4 64.4,1155.4 56.2,1157.4 51.1,1167.7 52.1,1175.9 50.1,1184.1 54.2,1190.2 64.4,1198.4 65.4,1201.5 50.1,1197.4 48.0,1197.4"/>
<polyline points="976.0,927.6 959.6,942.2 944.0,957.9 932.3,970.5 920.5,984.2 914.1,991.0 904.4,1001.7 894.6,1014.4 886.8,1020.3 881.9,1024.2 873.1,1040.8 865.3,1052.5 860.4,1058.4 850.6,1073.0 843.8,1082.8 837.5,1093.6 834.6,1097.5 832.6,1100.5 826.7,1107.6 820.9,1115.2 812.7,1122.8 808.0,1128.7 805.6,1125.2 803.9,1119.9 801.5,1125.2 800.9,1127.5 795.1,1125.7 789.2,1128.7 785.1,1131.0 783.4,1128.7 784.5,1122.8 785.7,1117.5 783.9,1117.5 782.2,1124.0 781.6,1129.8 778.7,1132.2 776.3,1126.3 775.2,1123.4 772.8,1122.8 771.1,1126.9 775.2,1127.5 776.3,1130.4 773.4,1132.2 777.5,1133.4 778.1,1139.2 778.7,1145.1 774.0,1147.4 768.7,1148.6 768.1,1147.4 766.4,1150.9 764.6,1148.6 764.0,1152.7 761.1,1153.9 765.2,1155.6 768.1,1158.0 768.7,1160.9 764.0,1164.4 761.1,1166.2 756.4,1168.5 750.0,1176.1 744.7,1173.8 740.0,1172.6 740.0,1173.2 726.5,1177.9 717.0,1185.9 711.4,1192.2 710.6,1201.7 709.0,1209.7 711.4,1214.4 708.3,1224.0 705.1,1233.5 706.7,1238.3 701.1,1243.8 694.0,1247.8 691.6,1249.4 689.2,1255.7 685.2,1265.2 682.1,1273.2 681.3,1282.7 677.3,1292.2 672.5,1298.6 667.8,1304.9 663.8,1311.3 659.8,1319.2 656.7,1328.7 652.7,1338.3 650.3,1343.0 645.6,1351.0 640.8,1355.7 638.4,1364.4 631.3,1362.1 628.1,1358.9 624.1,1362.9 621.6,1365.5 621.6,1365.5 619.0,1375.8 621.6,1383.5 615.2,1391.0 612.7,1400.5"/>
<path d="M861.9,1057.4 L859.9,1052.5 Q857,1049 852.6,1050 Q849.5,1052 848.2,1056.4 M864.3,1054.5 L868.2,1049.6 L872.6,1037.9 L872.1,1029 L868.7,1025.6 M881.9,1022.2 L879,1018.3 L875.6,1017.3 L875.1,1012.5 M880.9,1020.3 L882.9,1013.4 M869.2,1050.5 L870.2,1048.6 M877.9,1037.9 L879.4,1035.9 M884.8,1032 L885.8,1029.1 M887.8,1025.2 L894.6,1018.3 M898.5,1013.4 L903.4,1009.5 M904.4,1005.6 L907.8,1002.2 M691.6,1249.4 l-0.3,-4.5 l2.2,-0.6 l0.5,2.6 M682,1273.5 l-4,-1 l-1.5,-3.5 l-3,-0.5 M672.5,1298.6 l-3.5,-0.3 M667,1306.5 l-4,2.2 l-6,-0.6 M663,1309 l-5,3.5 M711.4,1214.4 l4,-1.5 M628.5,1359 l-2,-3 M641,1355.5 l2.5,-3.5 l-2.5,-1 M618,1380 l-4,3 l3,4 l-4,4 l2,5"/>
</g>
<polygon points="782.2,1139.2 783.9,1136.3 789.2,1135.1 793.9,1132.8 797.4,1130.4 799.8,1132.2 800.4,1135.1 797.4,1136.9 794.5,1138.0 791.6,1137.5 789.8,1139.8 786.3,1140.4 785.7,1143.3 783.9,1142.2" fill="#fff" stroke="#66a9df" stroke-width="0.8" stroke-linejoin="round"/>
<polygon points="778.7,1147.4 780.4,1145.7 782.8,1147.4 782.2,1150.9 779.8,1153.3 778.1,1150.9" fill="#fff" stroke="#66a9df" stroke-width="0.8" stroke-linejoin="round"/>
<path d="M664,1400.5 L666,1391 L664.5,1384 L667,1385 L668,1389 L676,1388 L678,1384 L681,1386 L680,1394 L681.5,1400.5 Z" fill="#cfcfcf" stroke="#66a9df" stroke-width="0.9"/>
</g>
<g id="country-labels">
<text x="124.6" y="514.2" font-size="12" textLength="46.0" lengthAdjust="spacingAndGlyphs" text-anchor="middle" fill="#858585">SOUTH</text>
<text x="124.6" y="529.0" font-size="12" textLength="46.0" lengthAdjust="spacingAndGlyphs" text-anchor="middle" fill="#858585">SUDAN</text>
<text x="126.0" y="729.3" font-size="12" textLength="58.0" lengthAdjust="spacingAndGlyphs" text-anchor="middle" fill="#858585">UGANDA</text>
<text x="596.7" y="549.9" font-size="12" textLength="63.0" lengthAdjust="spacingAndGlyphs" text-anchor="middle" fill="#858585">ETHIOPIA</text>
<text x="875.6" y="716.3" font-size="12.5" textLength="59.5" lengthAdjust="spacingAndGlyphs" text-anchor="middle" fill="#858585">SOMALIA</text>
<text x="260.3" y="1252.8" font-size="12.5" textLength="48.0" lengthAdjust="spacingAndGlyphs" text-anchor="middle" fill="#858585">UNITED</text>
<text x="260.3" y="1267.9" font-size="12.5" textLength="85.0" lengthAdjust="spacingAndGlyphs" text-anchor="middle" fill="#858585">REPUBLIC OF</text>
<text x="260.3" y="1283.1" font-size="12.5" textLength="66.0" lengthAdjust="spacingAndGlyphs" text-anchor="middle" fill="#858585">TANZANIA</text>
</g>
<g id="county-labels">
<text x="318.0" y="737.9" font-size="8.5" text-anchor="middle" fill="#a3a3a3">Turkana</text>
<text x="477.0" y="678.4" font-size="8.5" text-anchor="middle" fill="#a3a3a3">Marsabit</text>
<text x="758.0" y="635.4" font-size="8.5" text-anchor="middle" fill="#a3a3a3">Mandera</text>
<text x="699.0" y="783.4" font-size="8.5" text-anchor="middle" fill="#a3a3a3">Wajir</text>
<text x="271.0" y="800.4" font-size="8.5" text-anchor="middle" fill="#a3a3a3">West</text>
<text x="271.0" y="811.5" font-size="8.5" text-anchor="middle" fill="#a3a3a3">Pokot</text>
<text x="435.7" y="827.9" font-size="8.5" text-anchor="middle" fill="#a3a3a3">Samburu</text>
<text x="240.9" y="846.5" font-size="8.5" text-anchor="middle" fill="#a3a3a3">Trans</text>
<text x="240.9" y="857.7" font-size="8.5" text-anchor="middle" fill="#a3a3a3">Nzoia</text>
<text x="294.7" y="846.5" font-size="8.5" text-anchor="middle" fill="#a3a3a3">Elgeyo-</text>
<text x="296.3" y="857.1" font-size="8.5" text-anchor="middle" fill="#a3a3a3">marakwet</text>
<text x="337.7" y="872.8" font-size="8.5" text-anchor="middle" fill="#a3a3a3">Baringo</text>
<text x="214.5" y="876.7" font-size="8.5" text-anchor="middle" fill="#a3a3a3">Bungoma</text>
<text x="273.6" y="894.0" font-size="8.5" text-anchor="middle" fill="#a3a3a3">Uasin</text>
<text x="273.6" y="905.5" font-size="8.5" text-anchor="middle" fill="#a3a3a3">Gishu</text>
<text x="175.2" y="909.7" font-size="8.5" text-anchor="middle" fill="#a3a3a3">Busia</text>
<text x="215.1" y="920.3" font-size="8.5" text-anchor="middle" fill="#a3a3a3">Kakamega</text>
<text x="252.7" y="932.8" font-size="8.5" text-anchor="middle" fill="#a3a3a3">Nandi</text>
<text x="179.1" y="937.0" font-size="8.5" text-anchor="middle" fill="#a3a3a3">Siaya</text>
<text x="219.4" y="938.8" font-size="8.5" text-anchor="middle" fill="#a3a3a3">Vihiga</text>
<text x="236.6" y="957.6" font-size="8.5" text-anchor="middle" fill="#a3a3a3">Kisumu</text>
<text x="266.0" y="978.8" font-size="8.5" text-anchor="middle" fill="#a3a3a3">Kericho</text>
<text x="342.3" y="987.3" font-size="8.5" text-anchor="middle" fill="#a3a3a3">Nakuru</text>
<text x="182.7" y="1002.9" font-size="8.5" text-anchor="middle" fill="#a3a3a3">Homa Bay</text>
<text x="240.9" y="1003.9" font-size="8.5" text-anchor="middle" fill="#a3a3a3">Nyamira</text>
<text x="223.0" y="1017.2" font-size="8.5" text-anchor="middle" fill="#a3a3a3">Kisii</text>
<text x="269.9" y="1016.6" font-size="8.5" text-anchor="middle" fill="#a3a3a3">Bomet</text>
<text x="186.7" y="1034.8" font-size="8.5" text-anchor="middle" fill="#a3a3a3">Migori</text>
<text x="279.0" y="1058.4" font-size="8.5" text-anchor="middle" fill="#a3a3a3">Narok</text>
<text x="401.5" y="916.7" font-size="8.5" text-anchor="middle" fill="#a3a3a3">Laikipia</text>
<text x="496.8" y="926.7" font-size="8.5" text-anchor="middle" fill="#a3a3a3">Meru</text>
<text x="376.9" y="966.7" font-size="8.5" text-anchor="middle" fill="#a3a3a3">Nyandarua</text>
<text x="418.7" y="982.7" font-size="8.5" text-anchor="middle" fill="#a3a3a3">Nyeri</text>
<text x="497.4" y="973.6" font-size="8.5" text-anchor="middle" fill="#a3a3a3">Tharaka - Nithi</text>
<text x="457.5" y="991.8" font-size="8.5" text-anchor="middle" fill="#a3a3a3">Kirinyaga</text>
<text x="487.4" y="1002.9" font-size="8.5" text-anchor="middle" fill="#a3a3a3">Embu</text>
<text x="423.3" y="1012.1" font-size="8.5" text-anchor="middle" fill="#a3a3a3">Murang'a</text>
<text x="399.0" y="1022.7" font-size="8.5" text-anchor="middle" fill="#a3a3a3">Kiambu</text>
<text x="460.5" y="1065.1" font-size="8.5" text-anchor="middle" fill="#a3a3a3">Machakos</text>
<text x="551.9" y="1080.2" font-size="8.5" text-anchor="middle" fill="#a3a3a3">Kitui</text>
<text x="485.8" y="1124.6" font-size="8.5" text-anchor="middle" fill="#a3a3a3">Makueni</text>
<text x="405.6" y="1137.0" font-size="8.5" text-anchor="middle" fill="#a3a3a3">Kajiado</text>
<text x="742.7" y="1075.7" font-size="8.5" text-anchor="middle" fill="#a3a3a3">Garissa</text>
<text x="651.3" y="1089.4" font-size="8.5" text-anchor="middle" fill="#a3a3a3">Tana</text>
<text x="651.3" y="1101.6" font-size="8.5" text-anchor="middle" fill="#a3a3a3">River</text>
<text x="751.9" y="1135.5" font-size="8.5" text-anchor="middle" fill="#a3a3a3">Lamu</text>
<text x="662.2" y="1233.2" font-size="8.5" text-anchor="middle" fill="#a3a3a3">Kilifi</text>
<text x="543.6" y="1250.0" font-size="8.5" text-anchor="middle" fill="#a3a3a3">Taita</text>
<text x="543.6" y="1260.7" font-size="8.5" text-anchor="middle" fill="#a3a3a3">Taveta</text>
<text x="662.2" y="1310.4" font-size="8.5" text-anchor="middle" fill="#a3a3a3">Mombasa</text>
<text x="620.3" y="1325.4" font-size="8.5" text-anchor="middle" fill="#a3a3a3">Kwale</text>
<text x="575.5" y="841.3" font-size="12" text-anchor="middle" fill="#8c8c8c">Isiolo</text>
</g>
<g id="water-labels" font-style="italic">
<text x="337.7" y="606.3" font-size="7.5" text-anchor="middle" fill="#5f8fce">Lake</text>
<text x="337.7" y="617.2" font-size="7.5" text-anchor="middle" fill="#5f8fce">Turkana</text>
<text x="124.6" y="976.5" font-size="7.8" text-anchor="middle" fill="#5f8fce">Lake</text>
<text x="125.2" y="987.1" font-size="7.8" text-anchor="middle" fill="#5f8fce">Victoria</text>
<text x="909.6" y="1091.7" font-size="7.8" text-anchor="middle" fill="#5f8fce">INDIAN</text>
<text x="909.6" y="1110.7" font-size="7.8" text-anchor="middle" fill="#5f8fce">OCEAN</text>
</g>
<g id="pies">
<path d="M231.0,608.6 L231.00,560.60 A48,48 0 0 1 279.00,609.02 Z" fill="#fb8080"/>
<path d="M231.0,608.6 L279.00,609.02 A48,48 0 1 1 184.29,597.56 Z" fill="#76dcfc"/>
<path d="M231.0,608.6 L184.29,597.56 A48,48 0 0 1 188.23,586.81 Z" fill="#fbb6dc"/>
<path d="M231.0,608.6 L188.23,586.81 A48,48 0 0 1 200.79,571.30 Z" fill="#fbfb66"/>
<path d="M231.0,608.6 L200.79,571.30 A48,48 0 0 1 231.00,560.60 Z" fill="#c8c8c8"/>
<path d="M406.3,1056.3 L406.30,1025.10 A31.2,31.2 0 0 1 416.20,1085.89 Z" fill="#fb8080"/>
<path d="M406.3,1056.3 L416.20,1085.89 A31.2,31.2 0 0 1 410.10,1087.27 Z" fill="#76dcfc"/>
<path d="M406.3,1056.3 L410.10,1087.27 A31.2,31.2 0 0 1 385.26,1079.34 Z" fill="#fbb6dc"/>
<path d="M406.3,1056.3 L385.26,1079.34 A31.2,31.2 0 0 1 390.04,1029.67 Z" fill="#fbfb66"/>
<path d="M406.3,1056.3 L390.04,1029.67 A31.2,31.2 0 0 1 406.30,1025.10 Z" fill="#c8c8c8"/>
<path d="M642.0,940.6 L642.00,889.10 A51.5,51.5 0 1 1 623.88,892.39 Z" fill="#fb8080"/>
<path d="M642.0,940.6 L623.88,892.39 A51.5,51.5 0 0 1 642.00,889.10 Z" fill="#fbb6dc"/>
<path d="M738.3,947.7 L738.30,910.00 A37.7,37.7 0 1 1 731.43,910.63 Z" fill="#fb8080"/>
<path d="M738.3,947.7 L731.43,910.63 A37.7,37.7 0 0 1 738.30,910.00 Z" fill="#fbb6dc"/>
</g>
<g id="markers">
<circle cx="232.6" cy="608.7" r="7.7" fill="#0f6cb6"/><g transform="translate(232.6,608.7) scale(1.132)" fill="#fff"><path d="M-0.6,-5.8 L-3.9,-1.6 L-3.9,4.2 L-2.2,4.2 L-2.2,-0.6 L-1,-2.4 Z"/><path d="M0.6,-5.8 L3.9,-1.6 L3.9,4.2 L2.2,4.2 L2.2,-0.6 L1,-2.4 Z"/><circle cx="0" cy="-1.6" r="0.95"/><path d="M-1,-0.3 h2 v3.3 h-0.5 v1.2 h-1 v-1.2 h-0.5 z"/></g>
<path d="M219.60,615.20 C221.46,609.92 222.45,604.11 225.80,602.00 C229.15,604.11 230.14,609.92 232.00,615.20 Z" fill="#ee3f5c"/><path d="M224.31,615.20 L224.44,609.66 Q225.80,604.11 227.16,609.66 L227.29,615.20 Z" fill="#fff"/>
<rect x="218.2" y="614.7" width="14.6" height="1.2" fill="#fff"/>
<circle cx="406.3" cy="1056.3" r="9.3" fill="#13315d"/><g transform="translate(406.3,1056.3) scale(1.368)" fill="#fff"><path d="M-0.6,-5.8 L-3.9,-1.6 L-3.9,4.2 L-2.2,4.2 L-2.2,-0.6 L-1,-2.4 Z"/><path d="M0.6,-5.8 L3.9,-1.6 L3.9,4.2 L2.2,4.2 L2.2,-0.6 L1,-2.4 Z"/><circle cx="0" cy="-1.6" r="0.95"/><path d="M-1,-0.3 h2 v3.3 h-0.5 v1.2 h-1 v-1.2 h-0.5 z"/></g>
<path d="M406.3,1058.2 L404.3,1054.3 A2.3,2.3 0 1 1 408.3,1054.3 Z" fill="#ee4a66"/><circle cx="406.3" cy="1053.1" r="1.25" fill="#fff"/>
<circle cx="718.8" cy="942.5" r="3.40" fill="#fff" stroke="#0f6cb6" stroke-width="2.40"/>
<path d="M716.50,938.00 C717.92,931.40 718.68,924.14 721.25,921.50 C723.82,924.14 724.58,931.40 726.00,938.00 Z" fill="#ee3f5c"/><path d="M720.11,938.00 L720.21,931.07 Q721.25,924.14 722.29,931.07 L722.39,938.00 Z" fill="#fff"/>
<path d="M714.60,942.00 C717.09,933.00 718.42,923.10 722.90,919.50 C727.38,923.10 728.71,933.00 731.20,942.00 Z" fill="#ee3f5c"/>
<ellipse cx="724.3" cy="931.8" rx="1.7" ry="4" fill="#fff"/><ellipse cx="720.6" cy="926.3" rx="0.8" ry="2.4" fill="#fff" transform="rotate(14 720.6 926.3)"/>
<circle cx="739.0" cy="948.0" r="5.25" fill="#fff" stroke="#0f6cb6" stroke-width="3.50"/>
<path d="M720.40,955.60 C722.65,948.80 723.85,941.32 727.90,938.60 C731.95,941.32 733.15,948.80 735.40,955.60 Z" fill="#ee3f5c"/>
<ellipse cx="727.8" cy="950.2" rx="2" ry="4.6" fill="#fff"/>
<circle cx="750.8" cy="935.9" r="6.2" fill="#d4d4d4" fill-opacity="0.8"/>
<text x="750.8" y="939.0" font-size="8.5" text-anchor="middle" fill="#f5b8b8" font-weight="bold">1</text>
</g>
<g id="pie-labels" font-weight="bold">
<text x="236.3" y="675.9" font-size="17.5" textLength="63.7" lengthAdjust="spacingAndGlyphs" fill="#0f6cb6">Kakuma</text>
<text x="238.7" y="700.0" font-size="17.5" textLength="60.0" lengthAdjust="spacingAndGlyphs" fill="#0f6cb6">164,571</text>
<text x="314.8" y="1050.6" font-size="17.5" textLength="56.6" lengthAdjust="spacingAndGlyphs" fill="#0f6cb6">Nairobi</text>
<text x="316.3" y="1075.7" font-size="17.5" textLength="53.0" lengthAdjust="spacingAndGlyphs" fill="#0f6cb6">67,267</text>
<text x="620.0" y="1006.8" font-size="18" textLength="59.7" lengthAdjust="spacingAndGlyphs" fill="#0f6cb6">Dadaab</text>
<text x="618.2" y="1030.1" font-size="17.5" textLength="62.8" lengthAdjust="spacingAndGlyphs" fill="#0f6cb6">170,833</text>
<text x="701.3" y="1002.7" font-size="18" textLength="70.6" lengthAdjust="spacingAndGlyphs" fill="#0f6cb6">Alinjugur</text>
<text x="709.2" y="1026.3" font-size="17.5" textLength="55.8" lengthAdjust="spacingAndGlyphs" fill="#0f6cb6">90,090</text>
</g>
<g id="inset">
<rect x="811.9" y="794.7" width="131.0" height="163.3" fill="#fff" stroke="#e4e4e4" stroke-width="0.8"/>
<text x="821.0" y="810.8" font-size="9.2" textLength="98.0" lengthAdjust="spacingAndGlyphs" fill="#0f6cb6" font-weight="bold">Alinjugur &amp; Dadaab camps</text>
<circle cx="929.4" cy="808.8" r="5.9" fill="#c9c9c9"/>
<text x="929.4" y="812.0" font-size="8.5" text-anchor="middle" fill="#fff" font-weight="bold">1</text>
<path d="M821.00,833.80 C822.42,830.08 823.18,825.99 825.75,824.50 C828.32,825.99 829.08,830.08 830.50,833.80 Z" fill="#e9526e"/><path d="M824.61,833.80 L824.71,829.89 Q825.75,825.99 826.79,829.89 L826.89,833.80 Z" fill="#fff"/>
<text x="832.0" y="832.6" font-size="8.3" textLength="39.5" lengthAdjust="spacingAndGlyphs" fill="#222">Dagahaley</text>
<path d="M836.00,855.60 C837.44,852.04 838.21,848.12 840.80,846.70 C843.39,848.12 844.16,852.04 845.60,855.60 Z" fill="#e9526e"/><path d="M839.65,855.60 L839.74,851.86 Q840.80,848.12 841.86,851.86 L841.95,855.60 Z" fill="#fff"/>
<text x="847.7" y="855.6" font-size="8.3" textLength="15.6" lengthAdjust="spacingAndGlyphs" fill="#222">Ifo 2</text>
<path d="M835.20,871.70 C836.67,868.10 837.45,864.14 840.10,862.70 C842.75,864.14 843.53,868.10 845.00,871.70 Z" fill="#e9526e"/><path d="M838.92,871.70 L839.02,867.92 Q840.10,864.14 841.18,867.92 L841.28,871.70 Z" fill="#fff"/>
<text x="848.4" y="872.5" font-size="8.3" textLength="7.8" lengthAdjust="spacingAndGlyphs" fill="#222">Ifo</text>
<circle cx="837.5" cy="902.2" r="7.3" fill="#0f6cb6"/><g transform="translate(837.5,902.2) scale(1.074)" fill="#fff"><path d="M-0.6,-5.8 L-3.9,-1.6 L-3.9,4.2 L-2.2,4.2 L-2.2,-0.6 L-1,-2.4 Z"/><path d="M0.6,-5.8 L3.9,-1.6 L3.9,4.2 L2.2,4.2 L2.2,-0.6 L1,-2.4 Z"/><circle cx="0" cy="-1.6" r="0.95"/><path d="M-1,-0.3 h2 v3.3 h-0.5 v1.2 h-1 v-1.2 h-0.5 z"/></g>
<text x="847.3" y="906.0" font-size="11" textLength="34.0" lengthAdjust="spacingAndGlyphs" fill="#222" font-weight="bold">Dadaab</text>
<text x="825.0" y="927.7" font-size="8.3" textLength="36.3" lengthAdjust="spacingAndGlyphs" fill="#222">Hagadera</text>
<path d="M863.30,928.80 C864.71,925.16 865.46,921.16 868.00,919.70 C870.54,921.16 871.29,925.16 872.70,928.80 Z" fill="#e9526e"/><path d="M866.87,928.80 L866.97,924.98 Q868.00,921.16 869.03,924.98 L869.13,928.80 Z" fill="#fff"/>
<text x="817.2" y="951.4" font-size="8.3" textLength="36.7" lengthAdjust="spacingAndGlyphs" fill="#222">Kambioos</text>
<path d="M856.30,949.80 C857.69,946.08 858.44,941.99 860.95,940.50 C863.46,941.99 864.21,946.08 865.60,949.80 Z" fill="#e9526e"/><path d="M859.83,949.80 L859.93,945.89 Q860.95,941.99 861.97,945.89 L862.07,949.80 Z" fill="#fff"/>
<text x="890.2" y="931.1" font-size="10.5" textLength="41.1" lengthAdjust="spacingAndGlyphs" fill="#111" font-weight="bold">Alinjugur</text>
<circle cx="916.9" cy="943.6" r="4.55" fill="#fff" stroke="#0f6cb6" stroke-width="2.90"/>
</g>
<g id="legend">
<circle cx="823.4" cy="1168.8" r="8.4" fill="#1d3b6c"/><g transform="translate(823.4,1168.8) scale(1.235)" fill="#fff"><path d="M-0.6,-5.8 L-3.9,-1.6 L-3.9,4.2 L-2.2,4.2 L-2.2,-0.6 L-1,-2.4 Z"/><path d="M0.6,-5.8 L3.9,-1.6 L3.9,4.2 L2.2,4.2 L2.2,-0.6 L1,-2.4 Z"/><circle cx="0" cy="-1.6" r="0.95"/><path d="M-1,-0.3 h2 v3.3 h-0.5 v1.2 h-1 v-1.2 h-0.5 z"/></g>
<circle cx="823.8" cy="1189.7" r="7.8" fill="#0f6cb6"/><g transform="translate(823.8,1189.7) scale(1.147)" fill="#fff"><path d="M-0.6,-5.8 L-3.9,-1.6 L-3.9,4.2 L-2.2,4.2 L-2.2,-0.6 L-1,-2.4 Z"/><path d="M0.6,-5.8 L3.9,-1.6 L3.9,4.2 L2.2,4.2 L2.2,-0.6 L1,-2.4 Z"/><circle cx="0" cy="-1.6" r="0.95"/><path d="M-1,-0.3 h2 v3.3 h-0.5 v1.2 h-1 v-1.2 h-0.5 z"/></g>
<circle cx="823.8" cy="1209.2" r="4.80" fill="#fff" stroke="#0f6cb6" stroke-width="3.40"/>
<path d="M819.80,1231.10 C821.09,1227.86 821.78,1224.30 824.10,1223.00 C826.42,1224.30 827.11,1227.86 828.40,1231.10 Z" fill="#e9526e"/><path d="M823.07,1231.10 L823.15,1227.70 Q824.10,1224.30 825.05,1227.70 L825.13,1231.10 Z" fill="#fff"/>
<path d="M823.8,1245.3 L821.6,1241.3 A2.5,2.5 0 1 1 826,1241.3 Z" fill="#e9526e"/><circle cx="823.8" cy="1240.2" r="1.2" fill="#fff"/>
<line x1="812" y1="1260.5" x2="836.3" y2="1260.5" stroke="#9b9b9b" stroke-width="1"/>
<line x1="812" y1="1276.2" x2="836.3" y2="1276.2" stroke="#a8a8a8" stroke-width="0.8" stroke-dasharray="2.2,1.3"/>
<text x="841.7" y="1172.5" font-size="9.6" textLength="98.5" lengthAdjust="spacingAndGlyphs" fill="#2a2a2a">UNHCR Country Office</text>
<text x="841.7" y="1192.5" font-size="9.6" textLength="82.0" lengthAdjust="spacingAndGlyphs" fill="#2a2a2a">UNHCR Sub Office</text>
<text x="841.7" y="1211.6" font-size="9.6" textLength="85.0" lengthAdjust="spacingAndGlyphs" fill="#2a2a2a">UNHCR Field Office</text>
<text x="841.7" y="1229.1" font-size="9.6" textLength="62.0" lengthAdjust="spacingAndGlyphs" fill="#2a2a2a">Refugee camp</text>
<text x="841.7" y="1245.6" font-size="9.6" textLength="97.0" lengthAdjust="spacingAndGlyphs" fill="#2a2a2a">Urban refugee location</text>
<text x="841.7" y="1262.8" font-size="9.6" textLength="95.5" lengthAdjust="spacingAndGlyphs" fill="#2a2a2a">International boundary</text>
<text x="841.7" y="1279.1" font-size="9.6" textLength="72.5" lengthAdjust="spacingAndGlyphs" fill="#2a2a2a">County boundary</text>
<text x="816.9" y="1304.0" font-size="10" textLength="78.0" lengthAdjust="spacingAndGlyphs" fill="#111" font-weight="bold">Country of origin</text>
<rect x="815.0" y="1311.0" width="25.8" height="13.0" fill="#fb8080"/>
<text x="846.3" y="1321.0" font-size="9.6" fill="#2a2a2a">Somalia</text>
<rect x="815.0" y="1330.0" width="25.8" height="13.0" fill="#76dcfc"/>
<text x="846.3" y="1340.0" font-size="9.6" fill="#2a2a2a">South Sudan</text>
<rect x="815.0" y="1349.0" width="25.8" height="13.0" fill="#fbb6dc"/>
<text x="846.3" y="1359.0" font-size="9.6" fill="#2a2a2a">Ethiopia</text>
<rect x="815.0" y="1368.0" width="25.8" height="13.0" fill="#fbfb66"/>
<text x="846.3" y="1378.0" font-size="9.6" fill="#2a2a2a">DRC</text>
<rect x="815.0" y="1387.0" width="25.8" height="13.0" fill="#c8c8c8"/>
<text x="846.3" y="1397.0" font-size="9.6" fill="#2a2a2a">Others</text>
<rect x="744.5" y="1375.5" width="16.5" height="4.2" fill="#6a6a6a"/>
<text x="758.5" y="1394.0" font-size="10.5" text-anchor="middle" fill="#6a6a6a">20km</text>
</g>
<g id="globe">
<clipPath id="gclip"><circle cx="925.9" cy="521.1" r="45"/></clipPath>
<circle cx="925.9" cy="521.1" r="45" fill="#e6e6e6"/>
<g clip-path="url(#gclip)" fill="#9c9c9c">
<polygon points="902.2,501.5 896.9,506.9 894.2,513.3 894.2,519.8 897.4,524.6 902.2,526.4 907.1,525.2 913.0,527.8 917.3,530.5 918.3,535.9 920.0,542.3 918.9,548.8 921.6,554.2 925.9,557.4 931.2,557.2 935.5,554.7 939.8,549.9 945.2,542.9 946.8,537.0 951.6,530.5 955.9,523.5 957.5,519.2 951.6,519.8 948.4,517.6 944.1,510.1 939.8,502.6 934.5,501.0 925.9,502.1 916.2,501.5 908.7,501.0"/>
<polygon points="905.4,497.2 907.1,491.9 913.0,490.2 916.2,484.9 920.5,482.7 928.0,481.1 934.5,482.2 934.5,491.9 930.2,494.0 925.9,491.9 920.5,494.0 916.2,492.9 910.8,496.2"/>
<polygon points="934.5,482.2 940.9,481.1 949.5,483.3 958.1,489.7 964.5,498.3 966.7,505.8 963.5,500.4 958.1,501.0 951.6,500.4 945.2,501.0 938.8,499.4 935.5,496.2 934.5,491.9"/>
<polygon points="940.9,502.6 947.3,501.0 954.9,502.1 959.2,508.0 959.7,512.3 954.9,515.5 949.5,517.6 945.2,511.2"/>
<polygon points="950.0,541.3 952.7,539.1 951.6,544.5 948.4,549.9 946.8,549.3"/>
<polygon points="940.4,526.2 943.0,527.3 946.8,526.2 947.3,529.5 946.8,533.2 944.7,534.8 941.4,531.6 939.8,529.5" fill="#c4222a"/>
</g>
<g clip-path="url(#gclip)" fill="none" stroke="#fff" stroke-width="1.15">
<path d="M926.93,475.74 C896.86,475.74 902.23,566.51 932.31,566.51"/>
<path d="M926.93,475.74 C869.64,475.74 875.01,566.51 932.31,566.51"/>
<path d="M926.93,475.74 C934.10,475.74 939.47,566.51 932.31,566.51"/>
<path d="M926.93,475.74 C966.32,475.74 971.69,566.51 932.31,566.51"/>
<path d="M926.93,475.74 C980.65,475.74 986.02,566.51 932.31,566.51"/>
<path d="M880.74,524.62 Q925.86,537.73 970.98,528.38"/>
<path d="M885.04,502.06 Q925.86,500.66 966.68,500.23"/>
<path d="M901.15,482.72 Q925.86,480.04 952.72,482.72"/>
<path d="M888.80,547.72 Q925.86,567.05 962.38,547.72"/>
</g>
<circle cx="925.9" cy="521.1" r="45" fill="none" stroke="#6e6e6e" stroke-width="1"/>
</g>
</g>
<!-- ===== Footer ===== -->
<g id="footer">
<text x="47.7" y="1410.8" font-size="9.5" textLength="664.6" lengthAdjust="spacingAndGlyphs" fill="#8a8a8a" font-style="italic">The boundaries and names shown and the designations used on this map do not imply official endorsement or acceptance by the United Nations.</text>
<text x="47.7" y="1426.8" font-size="10" textLength="65.4" lengthAdjust="spacingAndGlyphs" fill="#7c7c7c" font-weight="bold">Printing date:</text>
<text x="117.4" y="1426.8" font-size="10" textLength="56.2" lengthAdjust="spacingAndGlyphs" fill="#8a8a8a">09 Mar 2017</text>
<text x="190.5" y="1426.8" font-size="10" textLength="42.2" lengthAdjust="spacingAndGlyphs" fill="#7c7c7c" font-weight="bold">Sources:</text>
<text x="237.6" y="1426.8" font-size="10" textLength="70.4" lengthAdjust="spacingAndGlyphs" fill="#8a8a8a">UNHCR, UNCS</text>
<text x="324.0" y="1426.8" font-size="10" textLength="36.0" lengthAdjust="spacingAndGlyphs" fill="#7c7c7c" font-weight="bold">Author:</text>
<text x="364.2" y="1426.8" font-size="10" textLength="188.1" lengthAdjust="spacingAndGlyphs" fill="#8a8a8a">UNHCR Regional Service Centre Nairobi</text>
<text x="566.4" y="1426.8" font-size="10" textLength="49.9" lengthAdjust="spacingAndGlyphs" fill="#7c7c7c" font-weight="bold">Feedback:</text>
<text x="620.9" y="1426.8" font-size="10" textLength="91.4" lengthAdjust="spacingAndGlyphs" fill="#8a8a8a">kenrsgis@unhcr.org</text>
</g>
</svg>
</body>
</html>
